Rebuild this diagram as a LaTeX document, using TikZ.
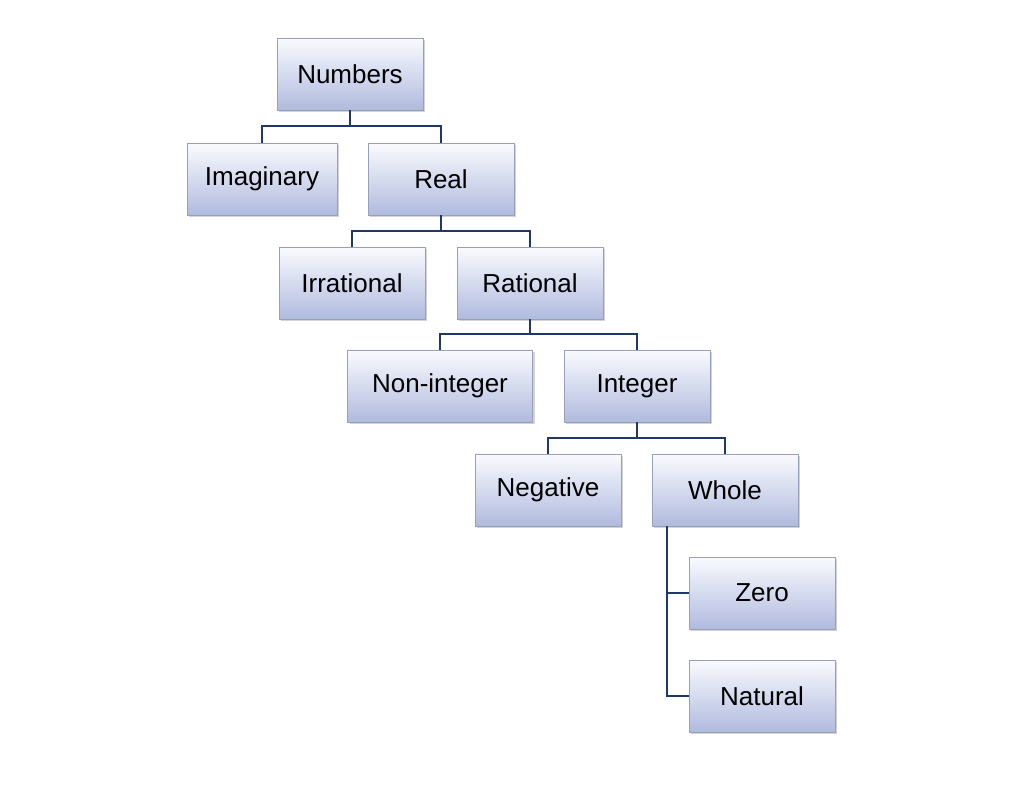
\documentclass[tikz,border=0pt]{standalone}
\usepackage{fontspec}
\setmainfont{Liberation Sans}
\usetikzlibrary{shadows}
\definecolor{boxtop}{RGB}{250,251,255}
\definecolor{boxbot}{RGB}{176,186,222}
\definecolor{boxline}{RGB}{150,160,185}
\definecolor{wire}{RGB}{31,56,100}
\tikzset{
  box/.style={draw=boxline, top color=boxtop, bottom color=boxbot,
    minimum width=146pt, minimum height=72pt, inner sep=0pt,
    font=\fontsize{26}{30}\selectfont,
    drop shadow={shadow xshift=2pt, shadow yshift=-2pt, opacity=0.35}},
  wire/.style={draw=wire, line width=2pt}
}
\begin{document}
\begin{tikzpicture}[x=1pt,y=-1pt]
\useasboundingbox (0,0) rectangle (1024,791);
\node[box] (numbers) at (350,74) {Numbers};
\node[box, minimum width=150pt] (imaginary) at (262,179) {Imaginary};
\node[box] (real) at (441,179) {Real};
\node[box] (irrational) at (352,283) {Irrational};
\node[box] (rational) at (530,283) {Rational};
\node[box, minimum width=185pt] (noninteger) at (440,386) {Non-integer};
\node[box] (integer) at (637,386) {Integer};
\node[box] (negative) at (548,490) {Negative};
\node[box] (whole) at (725,490) {Whole};
\node[box] (zero) at (762,593) {Zero};
\node[box] (natural) at (762,696) {Natural};
% branches
\draw[wire] (numbers.south) -- ++(0,16) -| (imaginary.north);
\draw[wire] (numbers.south) -- ++(0,16) -| (real.north);
\draw[wire] (real.south) -- ++(0,16) -| (irrational.north);
\draw[wire] (real.south) -- ++(0,16) -| (rational.north);
\draw[wire] (rational.south) -- ++(0,15) -| (noninteger.north);
\draw[wire] (rational.south) -- ++(0,15) -| (integer.north);
\draw[wire] (integer.south) -- ++(0,16) -| (negative.north);
\draw[wire] (integer.south) -- ++(0,16) -| (whole.north);
\coordinate (trunk) at ([xshift=-58pt]whole.south);
\draw[wire] (trunk) |- (zero.west);
\draw[wire] (trunk) |- (natural.west);
\end{tikzpicture}
\end{document}
